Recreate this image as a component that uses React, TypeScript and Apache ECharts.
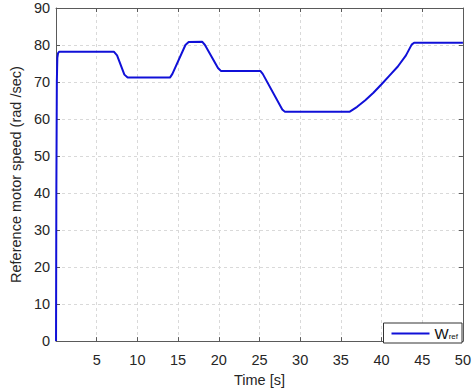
import React, { useEffect, useRef } from "react";
import * as echarts from "echarts";

const times = [0, 0.04, 0.1, 0.16, 0.25, 0.4, 7.1, 7.5, 8.4, 8.8, 14.0, 14.3, 15.9, 16.3, 17.95, 18.3, 19.9, 20.25, 25.1, 25.4, 27.8, 28.1, 36.1, 37, 38, 39, 40, 41, 42, 43, 43.7, 44, 50];
const speeds = [0, 40, 70, 76.5, 77.8, 78.2, 78.2, 77.2, 72.0, 71.2, 71.2, 72.2, 80.0, 80.8, 80.9, 80.0, 73.8, 73.0, 73.0, 72.2, 62.6, 62.0, 62.0, 63.3, 65.1, 67.1, 69.4, 71.8, 74.2, 77.2, 80.1, 80.6, 80.6];
const seriesName = "W_ref";
const xLabel = "Time [s]";
const yLabel = "Reference motor speed (rad /sec)";

export default function App() {
  const ref = useRef<HTMLDivElement>(null);
  useEffect(() => {
    const chart = echarts.init(ref.current!, null, { renderer: "svg" });
    const data = times.map((t, i) => [t, speeds[i]]);
    const font = "Liberation Sans, Arial, sans-serif";
    const axisColor = "#5a5a5a";
    const gridLine = { show: true, lineStyle: { color: "#d9d9d9", type: [3, 3] as any, width: 1 } };
    chart.setOption({
      animation: false,
      backgroundColor: "#ffffff",
      grid: { left: 42, right: 9, top: 8, bottom: 46.5, containLabel: false },
      legend: {
        show: true,
        data: [{ name: seriesName, icon: "path://M0,0 L40,0 L40,2 L0,2 Z" }],
        right: 12,
        bottom: 49,
        orient: "vertical",
        itemWidth: 38,
        itemHeight: 2,
        itemGap: 0,
        padding: [3, 4, 2, 8],
        borderColor: "#333333",
        borderWidth: 1,
        backgroundColor: "#ffffff",
        borderRadius: 0,
        formatter: () => "{w|W}{s|ref}",
        textStyle: {
          fontFamily: font,
          color: "#111",
          rich: {
            w: { fontSize: 15, fontFamily: font, color: "#111", lineHeight: 16 },
            s: { fontSize: 8, fontFamily: font, color: "#111", padding: [6, 0, 0, 0], lineHeight: 16 },
          },
        },
      },
      xAxis: [
        {
          type: "value",
          min: 0,
          max: 50,
          interval: 5,
          position: "bottom",
          name: xLabel,
          nameLocation: "middle",
          nameGap: 29,
          nameTextStyle: { fontFamily: font, fontSize: 14.5, color: "#262626" },
          axisLine: { show: true, onZero: false, lineStyle: { color: axisColor, width: 1 } },
          axisTick: { show: true, inside: true, length: 4, lineStyle: { color: axisColor } },
          axisLabel: { showMinLabel: false, fontFamily: font, fontSize: 14.5, color: "#262626", margin: 11 },
          splitLine: gridLine,
        },
        {
          type: "value",
          min: 0,
          max: 50,
          interval: 5,
          position: "top",
          axisLine: { show: true, onZero: false, lineStyle: { color: axisColor, width: 1 } },
          axisTick: { show: true, inside: true, length: 4, lineStyle: { color: axisColor } },
          axisLabel: { show: false },
          splitLine: { show: false },
        },
      ],
      yAxis: [
        {
          type: "value",
          min: 0,
          max: 90,
          interval: 10,
          position: "left",
          name: yLabel,
          nameLocation: "middle",
          nameGap: 31,
          nameTextStyle: { fontFamily: font, fontSize: 14.5, color: "#262626" },
          axisLine: { show: true, onZero: false, lineStyle: { color: axisColor, width: 1 } },
          axisTick: { show: true, inside: true, length: 4, lineStyle: { color: axisColor } },
          axisLabel: { fontFamily: font, fontSize: 14.5, color: "#262626", margin: 6 },
          splitLine: gridLine,
        },
        {
          type: "value",
          min: 0,
          max: 90,
          interval: 10,
          position: "right",
          axisLine: { show: true, onZero: false, lineStyle: { color: axisColor, width: 1 } },
          axisTick: { show: true, inside: true, length: 4, lineStyle: { color: axisColor } },
          axisLabel: { show: false },
          splitLine: { show: false },
        },
      ],
      series: [
        {
          name: seriesName,
          type: "line",
          data,
          symbol: "none",
          smooth: false,
          lineStyle: { color: "#1010d8", width: 2 },
          itemStyle: { color: "#1010d8" },
          clip: true,
        },
      ],
    });
    return () => chart.dispose();
  }, []);
  return (
    <div
      ref={ref}
      style={{ position: "fixed", left: 0, top: 0, width: 474, height: 392, background: "#fff" }}
    />
  );
}
